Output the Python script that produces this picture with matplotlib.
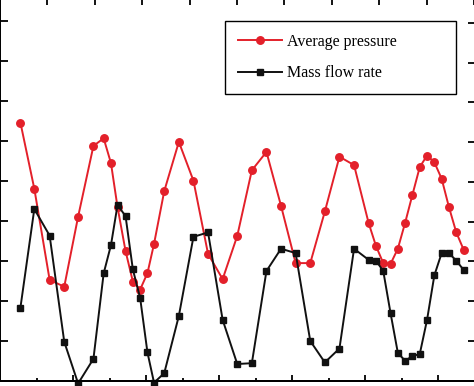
import matplotlib
matplotlib.use('Agg')
import matplotlib.pyplot as plt
from matplotlib.ticker import MultipleLocator

# ---- data ----
time = [0.28, 0.47, 0.68, 0.88, 1.07, 1.28, 1.42, 1.52, 1.61, 1.72,
        1.82, 1.92, 2.02, 2.11, 2.25, 2.45, 2.65, 2.85, 3.05, 3.25,
        3.45, 3.65, 3.85, 4.05, 4.25, 4.45, 4.65, 4.85, 5.05, 5.15,
        5.25, 5.35, 5.45, 5.55, 5.65, 5.75, 5.85, 5.95, 6.05, 6.15,
        6.25, 6.35]

avg_pressure = [6.45, 4.80, 2.52, 2.35, 4.10, 5.87, 6.06, 5.44, 4.34, 3.24,
                2.48, 2.28, 2.69, 3.42, 4.74, 5.97, 5.00, 3.17, 2.54, 3.62,
                5.26, 5.72, 4.37, 2.94, 2.94, 4.23, 5.60, 5.39, 3.94, 3.37,
                2.94, 2.92, 3.30, 3.95, 4.65, 5.34, 5.63, 5.46, 5.05, 4.34,
                3.71, 3.28]

mass_flow = [1.84, 4.32, 3.65, 0.98, -0.07, 0.55, 2.70, 3.41, 4.42, 4.14,
             2.80, 2.08, 0.71, -0.05, 0.19, 1.63, 3.62, 3.73, 1.53, 0.42,
             0.44, 2.76, 3.32, 3.21, 1.00, 0.46, 0.81, 3.32, 3.04, 3.02,
             2.76, 1.70, 0.70, 0.50, 0.62, 0.67, 1.53, 2.65, 3.21, 3.21,
             3.02, 2.79]

labels = ["Average pressure", "Mass flow rate"]

# ---- figure / axes ----
W, H = 474, 386
fig = plt.figure(figsize=(W / 100, H / 100), dpi=100)
left_px, right_px, top_px, bottom_px = -0.5, 476.0, -1.0, 380.7
ax = fig.add_axes([left_px / W, (H - bottom_px) / H,
                   (right_px - left_px) / W, (bottom_px - top_px) / H])

red = '#e3202a'
l1, = ax.plot(time, avg_pressure, color=red, lw=1.4, marker='o', ms=5.4,
              mec=red, mfc=red, clip_on=False, zorder=3, label=labels[0])
ax.set_xlim(left_px / 73, right_px / 73)
ax.set_ylim(0, (bottom_px - top_px) / 40)

ax2 = ax.twinx()
l2, = ax2.plot(time, mass_flow, color='#111111', lw=1.4, marker='s', ms=4.0,
               clip_on=False, zorder=3, label=labels[1])
ax2.set_ylim(0, (bottom_px - top_px) / 39.75)

ax3 = ax.twiny()
ax3.set_xlim(left_px / 47.4, right_px / 47.4)

for a in (ax, ax2, ax3):
    for s in a.spines.values():
        s.set_linewidth(1.3)
        s.set_color('black')
ax.spines['left'].set_color('#999999')

ax.xaxis.set_major_locator(MultipleLocator(1))
ax.xaxis.set_minor_locator(MultipleLocator(0.5))
ax.yaxis.set_major_locator(MultipleLocator(1))
ax.yaxis.set_minor_locator(plt.NullLocator())
ax.tick_params(axis='x', which='major', direction='in', length=4.5, width=1.3,
               bottom=True, top=False, labelbottom=False)
ax.tick_params(axis='x', which='minor', direction='in', length=2.5, width=1.3,
               bottom=True, top=False)
ax.tick_params(axis='y', which='major', direction='in', length=5.5, width=1.3,
               left=True, right=False, labelleft=False, color='black')

ax2.yaxis.set_major_locator(MultipleLocator(1))
ax2.tick_params(axis='y', which='major', direction='in', length=6, width=1.3,
                right=True, left=False, labelright=False)

ax3.xaxis.set_major_locator(MultipleLocator(1))
ax3.tick_params(axis='x', which='major', direction='in', length=4, width=1.3,
                top=True, bottom=False, labeltop=False)

x0 = (225 - left_px) / (right_px - left_px)
wid = (456 - 225) / (right_px - left_px)
ytop = (bottom_px - 21) / (bottom_px - top_px)
leg = ax3.legend(handles=[l1, l2], labels=labels, loc='upper left',
                 bbox_to_anchor=(x0, ytop - 0.3, wid, 0.3), mode='expand',
                 borderaxespad=0, prop=dict(family='Liberation Serif', size=11.5),
                 handlelength=2.74, handletextpad=0.35, borderpad=0.8,
                 labelspacing=0.98, fancybox=False, framealpha=1,
                 edgecolor='black')
leg.get_frame().set_linewidth(1.0)

fig.savefig('out.png', dpi=100)
